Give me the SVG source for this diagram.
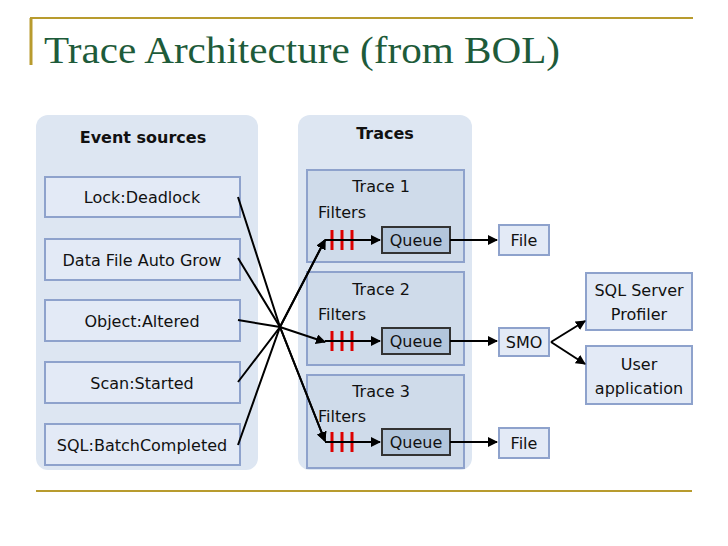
<svg xmlns="http://www.w3.org/2000/svg" width="728" height="546" viewBox="0 0 728 546">
<defs>
<style>
.panel{fill:#dde6f2}
.box{fill:#e3eaf6;stroke:#8ea2cc;stroke-width:2}
.tr{fill:#cfdbea;stroke:#8ea2cc;stroke-width:2}
.q{fill:#b3c6dc;stroke:#333;stroke-width:2}
.t{font-family:"DejaVu Sans",sans-serif;font-size:16px;fill:#111;text-anchor:middle}
.h{font-family:"DejaVu Sans",sans-serif;font-size:16px;font-weight:bold;fill:#111;text-anchor:middle}
.ln{stroke:#000;stroke-width:2;fill:none;marker-end:url(#a)}
.red{stroke:#d00;stroke-width:3}
</style>
<marker id="a" viewBox="0 0 10 10" refX="9" refY="5" markerWidth="5" markerHeight="5" orient="auto"><path d="M0,0L10,5L0,10z" fill="#000"/></marker>
</defs>
<rect width="728" height="546" fill="#fff"/>
<line x1="30" y1="18" x2="693" y2="18" stroke="#b89b2e" stroke-width="2"/>
<line x1="31" y1="18" x2="31" y2="65" stroke="#b89b2e" stroke-width="3"/>
<line x1="36" y1="491" x2="692" y2="491" stroke="#b89b2e" stroke-width="2"/>
<text x="44" y="63" font-family="Liberation Serif,serif" font-size="38" textLength="516" lengthAdjust="spacingAndGlyphs" fill="#1e5b3a">Trace Architecture (from BOL)</text>
<g id="sources">
<rect class="panel" x="36" y="115" width="222" height="355" rx="12"/>
<text class="h" x="143" y="143">Event sources</text>
</g>
<g id="lock"><rect class="box" x="45" y="177" width="195" height="40"/><text class="t" x="142" y="203">Lock:Deadlock</text></g>
<g id="datafile"><rect class="box" x="45" y="239" width="195" height="41"/><text class="t" x="142" y="266">Data File Auto Grow</text></g>
<g id="object"><rect class="box" x="45" y="300" width="195" height="41"/><text class="t" x="142" y="327">Object:Altered</text></g>
<g id="scan"><rect class="box" x="45" y="362" width="195" height="41"/><text class="t" x="142" y="389">Scan:Started</text></g>
<g id="sql"><rect class="box" x="45" y="424" width="195" height="41"/><text class="t" x="142" y="451">SQL:BatchCompleted</text></g>
<g id="traces">
<rect class="panel" x="298" y="115" width="174" height="355" rx="12"/>
<text class="h" x="385" y="139">Traces</text>
</g>
<g id="trace1"><rect class="tr" x="307" y="170" width="157" height="92"/><text class="t" x="381" y="192">Trace 1</text><text class="t" x="342" y="218">Filters</text>
<line class="red" x1="332" y1="230" x2="332" y2="250"/><line class="red" x1="342" y1="230" x2="342" y2="250"/><line class="red" x1="352" y1="230" x2="352" y2="250"/>
<rect class="q" x="382" y="227" width="68" height="26"/><text class="t" x="416" y="246">Queue</text></g>
<g id="trace2"><rect class="tr" x="307" y="272" width="157" height="93"/><text class="t" x="381" y="295">Trace 2</text><text class="t" x="342" y="320">Filters</text>
<line class="red" x1="332" y1="331" x2="332" y2="351"/><line class="red" x1="342" y1="331" x2="342" y2="351"/><line class="red" x1="352" y1="331" x2="352" y2="351"/>
<rect class="q" x="382" y="328" width="68" height="26"/><text class="t" x="416" y="347">Queue</text></g>
<g id="trace3"><rect class="tr" x="307" y="375" width="157" height="93"/><text class="t" x="381" y="397">Trace 3</text><text class="t" x="342" y="422">Filters</text>
<line class="red" x1="332" y1="432" x2="332" y2="452"/><line class="red" x1="342" y1="432" x2="342" y2="452"/><line class="red" x1="352" y1="432" x2="352" y2="452"/>
<rect class="q" x="382" y="429" width="68" height="26"/><text class="t" x="416" y="448">Queue</text></g>
<g id="file1"><rect class="box" x="499" y="225" width="50" height="30"/><text class="t" x="524" y="246">File</text></g>
<g id="smo"><rect class="box" x="499" y="328" width="50" height="28"/><text class="t" x="524" y="348">SMO</text></g>
<g id="file3"><rect class="box" x="499" y="428" width="50" height="30"/><text class="t" x="524" y="449">File</text></g>
<g id="profiler"><rect class="box" x="586" y="273" width="106" height="57"/><text class="t" x="639" y="296">SQL Server</text><text class="t" x="639" y="320">Profiler</text></g>
<g id="userapp"><rect class="box" x="586" y="346" width="106" height="58"/><text class="t" x="639" y="370">User</text><text class="t" x="639" y="394">application</text></g>
<g id="connectors">
<polyline class="ln" points="238,197 280,327 325,441"/>
<polyline class="ln" points="238,258 280,327 325,441"/>
<polyline class="ln" points="238,320 280,327 325,342"/>
<polyline class="ln" points="238,382 280,327 325,240"/>
<polyline class="ln" points="238,445 280,327 325,240"/>
<line class="ln" x1="325" y1="240" x2="380" y2="240"/>
<line class="ln" x1="325" y1="341" x2="380" y2="341"/>
<line class="ln" x1="325" y1="442" x2="380" y2="442"/>
<line class="ln" x1="450" y1="240" x2="497" y2="240"/>
<line class="ln" x1="450" y1="341" x2="497" y2="341"/>
<line class="ln" x1="450" y1="442" x2="497" y2="442"/>
<line class="ln" x1="551" y1="342" x2="585" y2="321"/>
<line class="ln" x1="551" y1="342" x2="585" y2="364"/>
</g>
</svg>
